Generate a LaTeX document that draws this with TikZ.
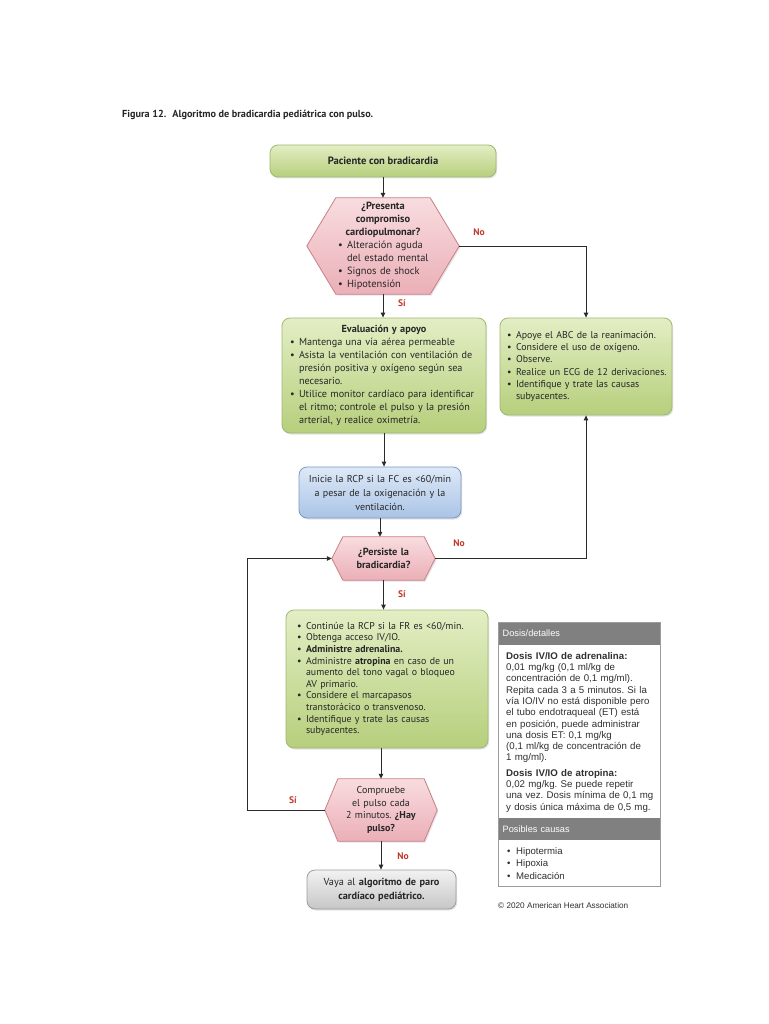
\documentclass[tikz,border=0pt]{standalone}
\usepackage{fontspec}
\setmainfont{PT Sans}
\newfontfamily\dosisfont{Liberation Sans}
\usetikzlibrary{arrows.meta,shadows}
\pgfdeclarelayer{backzero}
\pgfdeclarelayer{background}
\pgfsetlayers{backzero,background,main}
\frenchspacing
\definecolor{greentop}{HTML}{E3EEC4}
\definecolor{greenbot}{HTML}{B6CF7C}
\definecolor{greenborder}{HTML}{9FB874}
\definecolor{pinktop}{HTML}{F8DCDF}
\definecolor{pinkbot}{HTML}{EBAFB7}
\definecolor{pinkborder}{HTML}{C98089}
\definecolor{bluetop}{HTML}{DDE9F7}
\definecolor{bluebot}{HTML}{AAC4E6}
\definecolor{blueborder}{HTML}{7C98C6}
\definecolor{graytop}{HTML}{F2F2F2}
\definecolor{graybot}{HTML}{C6C6C6}
\definecolor{grayborder}{HTML}{9C9C9C}
\definecolor{labred}{HTML}{C0392B}
\definecolor{linecol}{HTML}{2B2B2B}
\definecolor{txt}{HTML}{262626}
\definecolor{band}{HTML}{808080}
\definecolor{dtxt}{HTML}{303030}
% bullet line, continuation line, centred line
\newcommand\bl[1]{\noindent\mbox{\makebox[9pt][l]{\textbullet}#1}\par}
\newcommand\cl[1]{\noindent\mbox{\hspace*{9pt}#1}\par}
\newcommand\ctr[1]{\noindent\makebox[\linewidth]{#1}\par}
\newcommand\hexshape[2]{\begin{pgfonlayer}{background}\draw[hexfill] (#1.west) -- ([xshift=#2]#1.north west) -- ([xshift=-#2]#1.north east) -- (#1.east) -- ([xshift=-#2]#1.south east) -- ([xshift=#2]#1.south west) -- cycle;\end{pgfonlayer}}
\tikzset{
  base/.style={inner sep=0pt, text=txt, font=\fontsize{10.2}{13}\selectfont},
  shadowed/.style={drop shadow={opacity=0.22, shadow xshift=1.2pt, shadow yshift=-1.5pt}},
  greenbox/.style={base, shadowed, rectangle, rounded corners=8pt, draw=greenborder, line width=0.8pt, top color=greentop, bottom color=greenbot},
  bluebox/.style={base, shadowed, rectangle, rounded corners=8pt, draw=blueborder, line width=0.8pt, top color=bluetop, bottom color=bluebot},
  graybox/.style={base, shadowed, rectangle, rounded corners=8pt, draw=grayborder, line width=0.8pt, top color=graytop, bottom color=graybot},
  hexnode/.style={base, rectangle, draw=none},
  hexfill/.style={draw=pinkborder, line width=0.8pt, top color=pinktop, bottom color=pinkbot, drop shadow={opacity=0.22, shadow xshift=1.2pt, shadow yshift=-1.5pt}},
  arr/.style={draw=linecol, line width=1pt, -{Triangle[length=5pt,width=4.5pt]}},
  lbl/.style={text=labred, font=\bfseries\fontsize{9.5}{11}\selectfont, inner sep=0pt},
  dtext/.style={anchor=north west, inner sep=0pt, align=left, text=dtxt},
  bandbox/.style={fill=band, anchor=north west, text width=153pt, minimum height=23pt, inner xsep=4.5pt, inner ysep=0pt, align=left, text=white, font=\dosisfont\fontsize{9.2}{11}\selectfont},
}
\begin{document}
\begin{tikzpicture}[x=1pt,y=-1pt]
\begin{pgfonlayer}{backzero}
\fill[white] (0,0) rectangle (768,1024);
\end{pgfonlayer}
\useasboundingbox (0,0) rectangle (768,1024);

\node[anchor=west, inner sep=0pt, font=\bfseries\fontsize{10.2}{12}\selectfont, text=txt] (title) at (122,115) {Figura 12.\hspace{6pt}Algoritmo de bradicardia pediátrica con pulso.};

\node[greenbox, minimum width=226pt, minimum height=32pt, font=\bfseries\fontsize{10.6}{13}\selectfont] (start) at (383,161) {Paciente con bradicardia};

\node[hexnode, minimum width=152pt, minimum height=96pt, text width=90pt, font=\fontsize{10.4}{13}\selectfont] (h1) at (383,246) {\ctr{\textbf{¿Presenta}}\ctr{\textbf{compromiso}}\ctr{\textbf{cardiopulmonar?}}\bl{Alteración aguda}\cl{del estado mental}\bl{Signos de shock}\bl{Hipotensión}};
\hexshape{h1}{29pt}

\node[greenbox, minimum width=204pt, minimum height=115pt, text width=188pt] (eval) at (384,375.5) {\ctr{\textbf{Evaluación y apoyo}}\bl{Mantenga una vía aérea permeable}\bl{Asista la ventilación con ventilación de}\cl{presión positiva y oxígeno según sea}\cl{necesario.}\bl{Utilice monitor cardíaco para identificar}\cl{el ritmo; controle el pulso y la presión}\cl{arterial, y realice oximetría.}};

\node[greenbox, minimum width=172pt, minimum height=97pt, text width=158pt, font=\fontsize{9.9}{12.2}\selectfont] (rbox) at (586,366.5) {\bl{Apoye el ABC de la reanimación.}\bl{Considere el uso de oxígeno.}\bl{Observe.}\bl{Realice un ECG de 12 derivaciones.}\bl{Identifique y trate las causas}\cl{subyacentes.}};

\node[bluebox, minimum width=162pt, minimum height=51pt, text width=150pt, font=\fontsize{10}{14}\selectfont] (blue) at (380,492.5) {\ctr{Inicie la RCP si la FC es <60/min}\ctr{a pesar de la oxigenación y la}\ctr{ventilación.}};

\node[hexnode, minimum width=103pt, minimum height=43pt, text width=90pt, font=\bfseries\fontsize{10.3}{13.5}\selectfont] (h2) at (383.5,558.5) {\ctr{¿Persiste la}\ctr{bradicardia?}};
\hexshape{h2}{11pt}

\node[greenbox, minimum width=202pt, minimum height=138pt, text width=180pt, font=\fontsize{9.9}{11.6}\selectfont] (g2) at (387,679) {\bl{Continúe la RCP si la FR es <60/min.}\bl{Obtenga acceso IV/IO.}\bl{\textbf{Administre adrenalina.}}\bl{Administre \textbf{atropina} en caso de un}\cl{aumento del tono vagal o bloqueo}\cl{AV primario.}\bl{Considere el marcapasos}\cl{transtorácico o transvenoso.}\bl{Identifique y trate las causas}\cl{subyacentes.}};

\node[hexnode, minimum width=112pt, minimum height=62pt, text width=100pt, font=\fontsize{10}{12.5}\selectfont] (h3) at (381,810) {\ctr{Compruebe}\ctr{el pulso cada}\ctr{2 minutos. \textbf{¿Hay}}\ctr{\textbf{pulso?}}};
\hexshape{h3}{13pt}

\node[graybox, minimum width=149pt, minimum height=39pt, text width=140pt, font=\fontsize{10.3}{14}\selectfont] (final) at (381.5,889.5) {\ctr{Vaya al \textbf{algoritmo de paro}}\ctr{\textbf{cardíaco pediátrico.}}};

% connectors
\draw[arr] (start.south) -- (start.south |- h1.north);
\draw[arr] (h1.south) -- (h1.south |- eval.north);
\draw[arr] (h1.east) -| (rbox.north);
\draw[arr] (eval.south) -- (eval.south |- blue.north);
\draw[arr] (blue.south) -- (blue.south |- h2.north);
\draw[arr] (h2.east) -| (rbox.south);
\draw[arr] (h2.south) -- (h2.south |- g2.north);
\draw[arr] (h3.north |- g2.south) -- (h3.north);
\draw[arr] (h3.south) -- (h3.south |- final.north);
\coordinate (loopx) at (247,0);
\draw[arr] (h3.west) -- (h3.west -| loopx) |- (h2.west);

% labels
\node[lbl] (no1) at (479,232) {No};
\node[lbl] (si1) at (402,303) {Sí};
\node[lbl] (no2) at (459,543) {No};
\node[lbl] (si2) at (402,594) {Sí};
\node[lbl] (si3) at (293,800) {Sí};
\node[lbl] (no3) at (403,856) {No};

% dosis box
\node[fill=white, minimum width=162pt, minimum height=264pt, inner sep=0pt, anchor=north west] (dosis) at (498,622) {};
\node[bandbox] (dh) at (498,622) {Dosis/detalles};
\node[dtext, text width=156pt, font=\dosisfont\fontsize{9.7}{11.3}\selectfont] (adr) at (506,652) {\textbf{Dosis IV/IO de adrenalina:}\\0,01 mg/kg (0,1 ml/kg de\\concentración de 0,1 mg/ml).\\Repita cada 3 a 5 minutos. Si la\\vía IO/IV no está disponible pero\\el tubo endotraqueal (ET) está\\en posición, puede administrar\\una dosis ET: 0,1 mg/kg\\(0,1 ml/kg de concentración de\\1 mg/ml).};
\node[dtext, text width=156pt, font=\dosisfont\fontsize{9.7}{11.3}\selectfont] (atr) at (506,769) {\textbf{Dosis IV/IO de atropina:}\\0,02 mg/kg. Se puede repetir\\una vez. Dosis mínima de 0,1 mg\\y dosis única máxima de 0,5 mg.};
\node[bandbox, minimum height=22pt] (ph) at (498,818) {Posibles causas};
\node[dtext, text width=140pt, font=\dosisfont\fontsize{9.6}{12.5}\selectfont] (causas) at (507,847) {\bl{Hipotermia}\bl{Hipoxia}\bl{Medicación}};
\draw[grayborder, line width=0.8pt] (dosis.north west) rectangle (dosis.south east);

\node[anchor=west, inner sep=0pt, font=\dosisfont\fontsize{8.2}{10}\selectfont, text=dtxt] (copy) at (498,906) {© 2020 American Heart Association};
\end{tikzpicture}
\end{document}
